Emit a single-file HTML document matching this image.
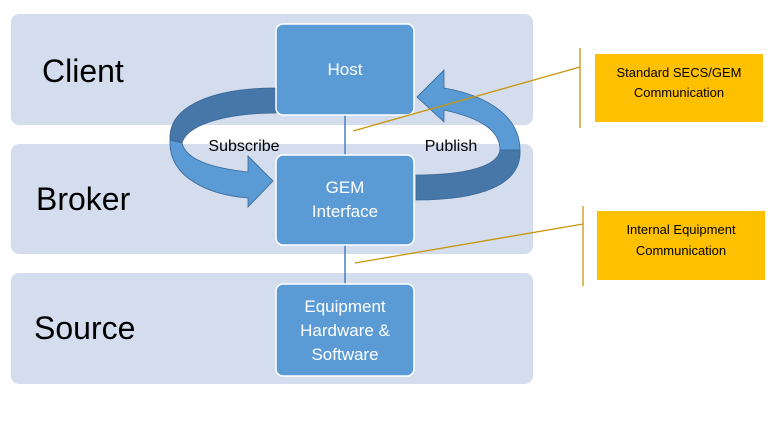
<!DOCTYPE html>
<html><head><style>
body{margin:0;width:779px;height:419px;background:#fff;overflow:hidden;font-family:"Liberation Sans",sans-serif}
</style></head><body>
<svg width="779" height="419" xmlns="http://www.w3.org/2000/svg" font-family="Liberation Sans, sans-serif">
<rect x="11" y="14" width="522" height="111" rx="8" fill="#d3ddee"/>
<rect x="11" y="144" width="522" height="110" rx="8" fill="#d3ddee"/>
<rect x="11" y="273" width="522" height="111" rx="8" fill="#d3ddee"/>
<text x="42" y="82" font-size="32" fill="#000">Client</text>
<text x="36" y="210" font-size="32" fill="#000">Broker</text>
<text x="34" y="339" font-size="32" fill="#000">Source</text>
<line x1="345" y1="115" x2="345" y2="155" stroke="#4a7ebb" stroke-width="1.5"/>
<line x1="345" y1="245" x2="345" y2="284" stroke="#4a7ebb" stroke-width="1.5"/>
<path d="M276,88 C215,88 168,105 170,140 L182,143 C187,125 225,113 276,113 Z" fill="#4677a8" stroke="#3a6794" stroke-width="0.8"/>
<path d="M170,140 C168,178 210,195 248,198 L248,207 L273,181 L248,156 L248,172 C212,168 186,160 182,143 Z" fill="#5b9bd5" stroke="#3a6794" stroke-width="0.8"/>
<path d="M416,175 C470,175 498,165 500,150 L520,150 C522,185 480,200 416,200 Z" fill="#4677a8" stroke="#3a6794" stroke-width="0.8"/>
<path d="M520,150 C520,118 490,96 444,88 L444,70 L417,97 L444,122 L444,110 C480,118 500,130 500,150 Z" fill="#5b9bd5" stroke="#3a6794" stroke-width="0.8"/>
<rect x="276" y="24" width="138" height="91" rx="7" fill="#5b9bd5" stroke="#fff" stroke-width="1.5"/>
<rect x="276" y="155" width="138" height="90" rx="7" fill="#5b9bd5" stroke="#fff" stroke-width="1.5"/>
<rect x="276" y="284" width="138" height="92" rx="7" fill="#5b9bd5" stroke="#fff" stroke-width="1.5"/>
<g fill="#fff" font-size="17" text-anchor="middle">
<text x="345" y="75">Host</text>
<text x="345" y="193">GEM</text>
<text x="345" y="217">Interface</text>
<text x="345" y="312">Equipment</text>
<text x="345" y="336">Hardware &amp;</text>
<text x="345" y="360">Software</text>
</g>
<text x="244" y="151" font-size="16" text-anchor="middle" fill="#000">Subscribe</text>
<text x="451" y="151" font-size="16" text-anchor="middle" fill="#000">Publish</text>
<g stroke="#c8960a" stroke-width="1.3">
<line x1="580" y1="48" x2="580" y2="128"/>
<line x1="580" y1="67" x2="353" y2="131"/>
<line x1="583" y1="206" x2="583" y2="286"/>
<line x1="583" y1="224" x2="355" y2="263"/>
</g>
<rect x="595" y="54" width="168" height="68" fill="#ffc000"/>
<rect x="597" y="211" width="168" height="69" fill="#ffc000"/>
<g font-size="13" text-anchor="middle" fill="#000">
<text x="679" y="77">Standard SECS/GEM</text>
<text x="679" y="97">Communication</text>
<text x="681" y="234">Internal Equipment</text>
<text x="681" y="255">Communication</text>
</g>
</svg>
</body></html>
